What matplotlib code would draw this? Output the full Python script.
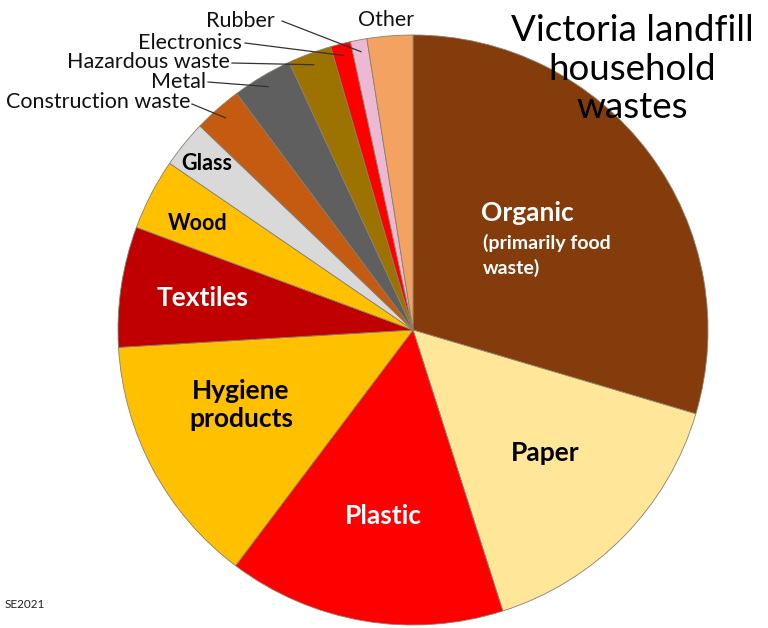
import matplotlib
matplotlib.use("Agg")
import matplotlib.pyplot as plt
import numpy as np

categories = ["Organic", "Paper", "Plastic", "Hygiene products", "Textiles", "Wood",
              "Glass", "Construction waste", "Metal", "Hazardous waste", "Electronics",
              "Rubber", "Other"]
values = [29.6, 15.5, 15.2, 13.8, 6.6, 3.9, 2.6, 2.65, 3.3, 2.4, 1.1, 0.9, 2.5]
colors = ["#843C0C", "#FFE699", "#FF0000", "#FFC000", "#C00000", "#FFC000",
          "#D9D9D9", "#C55A11", "#5F5F5F", "#9C7200", "#FF0000", "#EDB8D2", "#F4A261"]

plt.rcParams['font.family'] = ['Lato', 'DejaVu Sans']

W, H = 768, 628
fig = plt.figure(figsize=(W / 100, H / 100), dpi=100)
ax = fig.add_axes([0, 0, 1, 1])

cx, cy, R = 413, H - 330, 295
wedges, _ = ax.pie(values, colors=colors, startangle=90, counterclock=False,
                   center=(cx, cy), radius=R, frame=True,
                   wedgeprops=dict(edgecolor='#8a7f6a', linewidth=0.6))
ax.set_xlim(0, W)
ax.set_ylim(0, H)
ax.set_aspect('equal')
ax.axis('off')

def Y(y):
    return H - y

# inside labels
ax.text(527, Y(213), "Organic", color='white', fontsize=19, fontweight='bold', ha='center', va='center')
ax.text(547, Y(243), "(primarily food", color='white', fontsize=14, fontweight='bold', ha='center', va='center')
ax.text(511, Y(268), "waste)", color='white', fontsize=14, fontweight='bold', ha='center', va='center')
ax.text(545, Y(453), "Paper", color='black', fontsize=19, fontweight='bold', ha='center', va='center')
ax.text(383, Y(516), "Plastic", color='white', fontsize=19, fontweight='bold', ha='center', va='center')
ax.text(241, Y(405), "Hygiene\nproducts", color='black', fontsize=19, fontweight='bold',
        ha='center', va='center', linespacing=1.2)
ax.text(203, Y(298), "Textiles", color='white', fontsize=19, fontweight='bold', ha='center', va='center')
ax.text(198, Y(223), "Wood", color='black', fontsize=15.5, fontweight='bold', ha='center', va='center')
ax.text(207, Y(164), "Glass", color='black', fontsize=15.5, fontweight='bold', ha='center', va='center')

# outside labels with leader lines
outside = {
    "Rubber": ((275, 21), (282, 21)),
    "Electronics": ((242, 43), (245, 43)),
    "Hazardous waste": ((230, 62), (232, 63)),
    "Metal": ((206, 82), (208, 82)),
    "Construction waste": ((191, 102), (192, 104)),
}
for w, name in zip(wedges, categories):
    if name in outside:
        (tx, ty), (lx, ly) = outside[name]
        ax.text(tx, Y(ty), name, fontsize=15.5, ha='right', va='center', color='#111111')
        mid = np.deg2rad((w.theta1 + w.theta2) / 2)
        ex = cx + 0.96 * R * np.cos(mid)
        ey = cy + 0.96 * R * np.sin(mid)
        ax.plot([lx, ex], [Y(ly), ey], color='#333333', lw=0.9)

ax.text(386, Y(20), "Other", fontsize=15.5, ha='center', va='center', color='#111111')

ax.text(632, Y(69), "Victoria landfill\nhousehold\nwastes", fontsize=26.5, ha='center', va='center',
        linespacing=1.2, color='black')
ax.text(5, Y(604), "SE2021", fontsize=8.5, ha='left', va='center', color='#222222')

fig.savefig("out.png", dpi=100)
